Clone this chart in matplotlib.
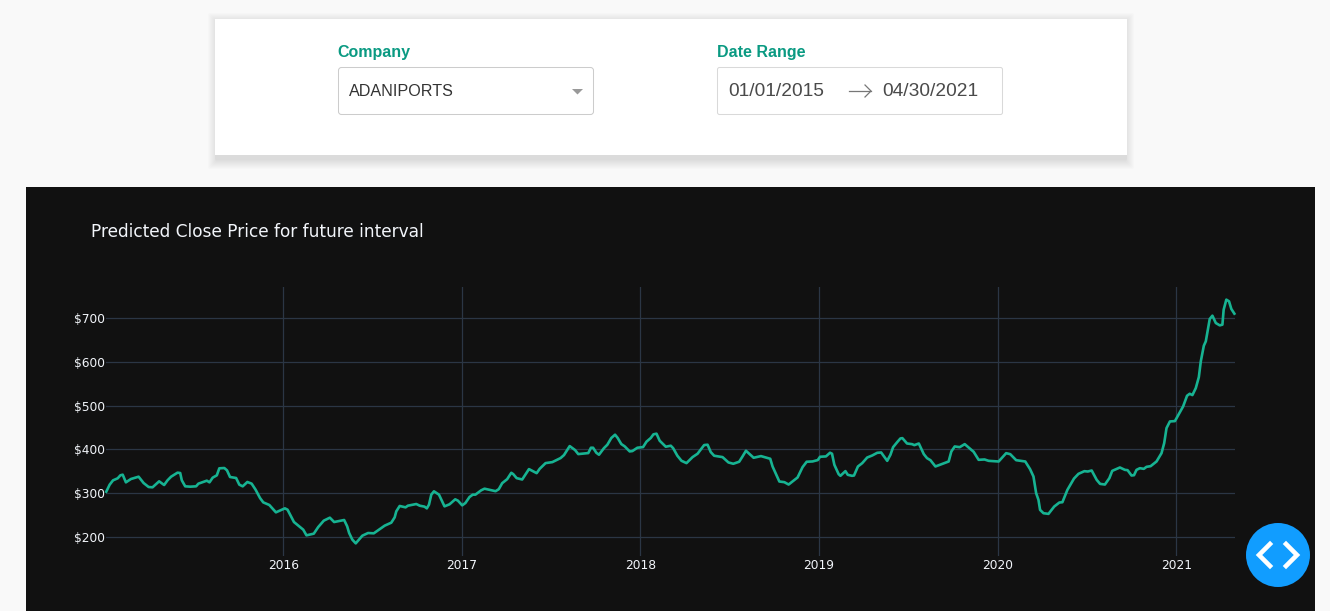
import matplotlib
matplotlib.use("Agg")
import matplotlib.pyplot as plt
from matplotlib.patches import Rectangle, FancyBboxPatch, Circle, Polygon

W, H = 1330, 611

company = "ADANIPORTS"
date_start = "01/01/2015"
date_end = "04/30/2021"
title = "Predicted Close Price for future interval"
y_ticks = [200, 300, 400, 500, 600, 700]
x_ticks = [2016, 2017, 2018, 2019, 2020, 2021]

t_2015_2017 = [2015.009, 2015.028, 2015.047, 2015.073, 2015.088, 2015.101, 2015.119, 2015.147, 2015.190, 2015.218,
    2015.246, 2015.268, 2015.305, 2015.333, 2015.352, 2015.372, 2015.408, 2015.423, 2015.432, 2015.451,
    2015.479, 2015.512, 2015.525, 2015.572, 2015.587, 2015.605, 2015.628, 2015.642, 2015.670, 2015.685,
    2015.702, 2015.736, 2015.754, 2015.773, 2015.799, 2015.823, 2015.845, 2015.870, 2015.888, 2015.922,
    2015.959, 2016.009, 2016.024, 2016.060, 2016.112, 2016.130, 2016.171, 2016.196, 2016.227, 2016.261,
    2016.285, 2016.341, 2016.358, 2016.369, 2016.387, 2016.406, 2016.443, 2016.475, 2016.507, 2016.568,
    2016.605, 2016.624, 2016.633, 2016.652, 2016.685, 2016.698, 2016.745, 2016.764, 2016.791, 2016.804,
    2016.816, 2016.829, 2016.844, 2016.872, 2016.903, 2016.931, 2016.963, 2016.978, 2017.002, 2017.020,
    2017.043, 2017.061, 2017.076, 2017.108, 2017.127]
v_2015_2017 = [303.5, 319.5, 329.4, 334, 340.8, 342.3, 324.8, 332.4, 337.7, 323.3,
    314.2, 313.4, 327.1, 318.7, 329.4, 337.7, 346.9, 346.1, 329.4, 315.7,
    314.9, 315.7, 321.8, 328.6, 324.8, 335.5, 340.8, 356.8, 357.5, 352.2,
    337, 334.7, 319.5, 315.7, 325.6, 321.8, 308.1, 289, 279.1, 273.1,
    256.3, 265.4, 262.4, 234.2, 216.7, 203.8, 207.6, 222.8, 237.3, 244.1,
    234.2, 238.8, 224.4, 209.1, 193.9, 185.5, 203, 209.1, 208.4, 225.9,
    232.7, 244.9, 258.6, 270.8, 267.7, 271.5, 275.3, 271.5, 269.3, 265.4,
    273.8, 296.7, 304.3, 296.7, 270, 274.6, 286, 283, 272.3, 277.6,
    291.3, 296.7, 296.7, 306.5, 310.3]

t_2017_2019 = [2017.189, 2017.207, 2017.226, 2017.254, 2017.277, 2017.288, 2017.307, 2017.338, 2017.376, 2017.419,
    2017.436, 2017.469, 2017.507, 2017.553, 2017.572, 2017.604, 2017.634, 2017.652, 2017.708, 2017.723,
    2017.735, 2017.753, 2017.768, 2017.796, 2017.815, 2017.837, 2017.858, 2017.873, 2017.893, 2017.912,
    2017.940, 2017.955, 2017.983, 2018.015, 2018.034, 2018.058, 2018.073, 2018.090, 2018.108, 2018.142,
    2018.170, 2018.183, 2018.207, 2018.230, 2018.258, 2018.292, 2018.320, 2018.357, 2018.376, 2018.394,
    2018.413, 2018.460, 2018.493, 2018.520, 2018.553, 2018.572, 2018.591, 2018.609, 2018.634, 2018.675,
    2018.727, 2018.740, 2018.778, 2018.806, 2018.830, 2018.880, 2018.908, 2018.931, 2018.964, 2018.993,
    2019.006, 2019.039, 2019.062, 2019.073, 2019.086, 2019.110, 2019.120, 2019.148, 2019.161, 2019.185]
v_2017_2019 = [304.6, 309.2, 322.9, 332.1, 346.6, 343.5, 334.4, 331.3, 355, 345.8,
    355.7, 368.7, 371, 380.2, 387, 407.6, 398.5, 389.3, 391.6, 403.8,
    403.8, 392.4, 387.8, 403, 410.7, 426, 433.6, 426, 412.2, 406.9,
    395.4, 396.2, 403.8, 405.3, 417.6, 426, 434.4, 435.9, 419.8, 406.1,
    408.4, 403, 385.5, 374, 368.7, 382.4, 390.1, 409.9, 410.7, 393.9,
    385.5, 382.4, 370.2, 367.2, 371.8, 384, 396.9, 390.1, 380.9, 384.7,
    378.6, 361, 326.7, 325.2, 319.8, 335.9, 359.5, 371.8, 372.5, 375.6,
    383.2, 384, 392.4, 390.1, 364.9, 343.5, 339.7, 350.4, 342, 339.7]

t_2019_2021 = [2019.196, 2019.218, 2019.242, 2019.270, 2019.298, 2019.326, 2019.348, 2019.382, 2019.400, 2019.415,
    2019.438, 2019.456, 2019.467, 2019.493, 2019.521, 2019.534, 2019.559, 2019.587, 2019.605, 2019.624,
    2019.652, 2019.726, 2019.741, 2019.760, 2019.788, 2019.816, 2019.866, 2019.894, 2019.927, 2019.950,
    2020.006, 2020.048, 2020.071, 2020.104, 2020.155, 2020.182, 2020.201, 2020.216, 2020.229, 2020.238,
    2020.257, 2020.285, 2020.317, 2020.346, 2020.363, 2020.391, 2020.428, 2020.453, 2020.486, 2020.505,
    2020.527, 2020.555, 2020.574, 2020.601, 2020.626, 2020.642, 2020.685, 2020.713, 2020.728, 2020.750,
    2020.764, 2020.778, 2020.797, 2020.819, 2020.834, 2020.857, 2020.890, 2020.918, 2020.933, 2020.946,
    2020.965, 2020.993, 2021.039, 2021.061, 2021.076, 2021.091, 2021.110, 2021.127, 2021.138, 2021.155,
    2021.166, 2021.188, 2021.203, 2021.222, 2021.244, 2021.259, 2021.266, 2021.281, 2021.296, 2021.309, 2021.326]
v_2019_2021 = [340.4, 361, 368.6, 381.5, 386.1, 392.2, 393, 373.9, 387.6, 405.1,
    416.6, 425, 425.7, 413.5, 412, 409.7, 413.5, 389.1, 380, 375.4,
    361, 372.4, 395.2, 406.7, 405.1, 412, 394.5, 376.2, 377, 373.9,
    372.4, 391.4, 389.1, 375.4, 372.4, 354.9, 338.1, 300, 284.8, 261.9,
    254.3, 252.8, 269.5, 278.7, 279.4, 307.6, 333.5, 344.2, 350.3, 349.5,
    351.8, 330.5, 321.3, 319.8, 334.3, 351, 358.7, 353.3, 352.6, 340.4,
    341.1, 353.3, 357.1, 355.6, 360.2, 361.7, 372.4, 391.4, 414.3, 448.6,
    463.8, 464.6, 498.1, 522.5, 527, 524, 540, 565.1, 601, 636.8,
    646.7, 697.7, 705.3, 688.6, 683.2, 684.8, 719, 741.9, 738.1, 720.6, 709.9]

years = t_2015_2017 + t_2017_2019 + t_2019_2021
close = v_2015_2017 + v_2017_2019 + v_2019_2021

fig = plt.figure(figsize=(W / 100, H / 100), dpi=100, facecolor="#f9f9f9")

# page furniture, in pixel coordinates
ui = fig.add_axes([0, 0, 1, 1], zorder=0)
ui.set_xlim(0, W)
ui.set_ylim(H, 0)
ui.axis("off")

for grow in range(1, 11):
    side = max(grow - 3, 0)
    ui.add_patch(FancyBboxPatch((215 - side, 23 - grow), 912 + 2 * side, 136 + 2 * grow,
                                boxstyle="round,pad=0,rounding_size=2", fc="black", ec="none",
                                alpha=0.011, lw=0))
ui.add_patch(Rectangle((215, 19), 912, 136, fc="white", ec="none", lw=0))
ui.add_patch(Rectangle((26, 187), 1289, 424, fc="#111111", ec="none", lw=0))

label_font = dict(family="Liberation Sans", color="#0a9a82", fontweight="bold", fontsize=11.5, va="center")
ui.text(337.5, 52.5, "Company", **label_font)
ui.text(717, 52.5, "Date Range", **label_font)

ui.add_patch(FancyBboxPatch((338.5, 67.5), 255, 47, boxstyle="round,pad=0,rounding_size=3",
                            fc="white", ec="#cccccc", lw=0.75))
ui.text(349, 92, company, family="Liberation Sans", fontsize=11.6, color="#333333", va="center")
ui.add_patch(Polygon([(572, 89), (583, 89), (577.5, 94.5)], fc="#999999", ec="none"))

ui.add_patch(FancyBboxPatch((717.5, 67.5), 285, 47, boxstyle="round,pad=0,rounding_size=2",
                            fc="white", ec="#d9d9d9", lw=0.75))
date_font = dict(family="Liberation Sans", fontsize=13.75, color="#4a4a4a", va="center")
ui.text(728.5, 91.5, date_start, **date_font)
ui.text(882.5, 91.5, date_end, **date_font)
ui.plot([849, 871], [91, 91], color="#777777", lw=0.9)
ui.plot([865, 871, 865], [85, 91, 97], color="#777777", lw=0.9)

ui.text(91, 232, title, family="DejaVu Sans", fontsize=12.25, color="#f2f5fa", va="center")

# chart
ax = fig.add_axes([106 / W, 1 - 556 / H, (1235 - 106) / W, (556 - 287) / H], zorder=1)
ax.patch.set_alpha(0)
ax.plot(years, close, color="#17b392", lw=1.9, solid_joinstyle="round", zorder=3, clip_on=False)
ax.set_xlim(2015.0075, 2021.3295)
ax.set_ylim(200 - (556 - 537.0) / 0.438, 200 + (537.0 - 287) / 0.438)
ax.set_xticks(x_ticks)
ax.set_xticklabels([str(y) for y in x_ticks])
ax.set_yticks(y_ticks)
ax.set_yticklabels(["$%d" % v for v in y_ticks])
ax.grid(True, color="#2b3645", lw=0.9)
ax.set_axisbelow(True)
ax.tick_params(length=0, colors="#f2f5fa", labelsize=8.8, labelfontfamily="DejaVu Sans")
ax.tick_params(axis="x", pad=2)
ax.tick_params(axis="y", pad=0.8)
for s in ax.spines.values():
    s.set_visible(False)

# floating round button, above the chart
top = fig.add_axes([0, 0, 1, 1], zorder=2)
top.set_xlim(0, W)
top.set_ylim(H, 0)
top.axis("off")
top.add_patch(Circle((1278, 555), 32, fc="#119dff", ec="none"))
top.plot([1270, 1259, 1270], [544, 555, 566], color="white", lw=3.3, solid_joinstyle="miter")
top.plot([1286, 1297, 1286], [544, 555, 566], color="white", lw=3.3, solid_joinstyle="miter")

fig.savefig("out.png", dpi=100, facecolor=fig.get_facecolor())
